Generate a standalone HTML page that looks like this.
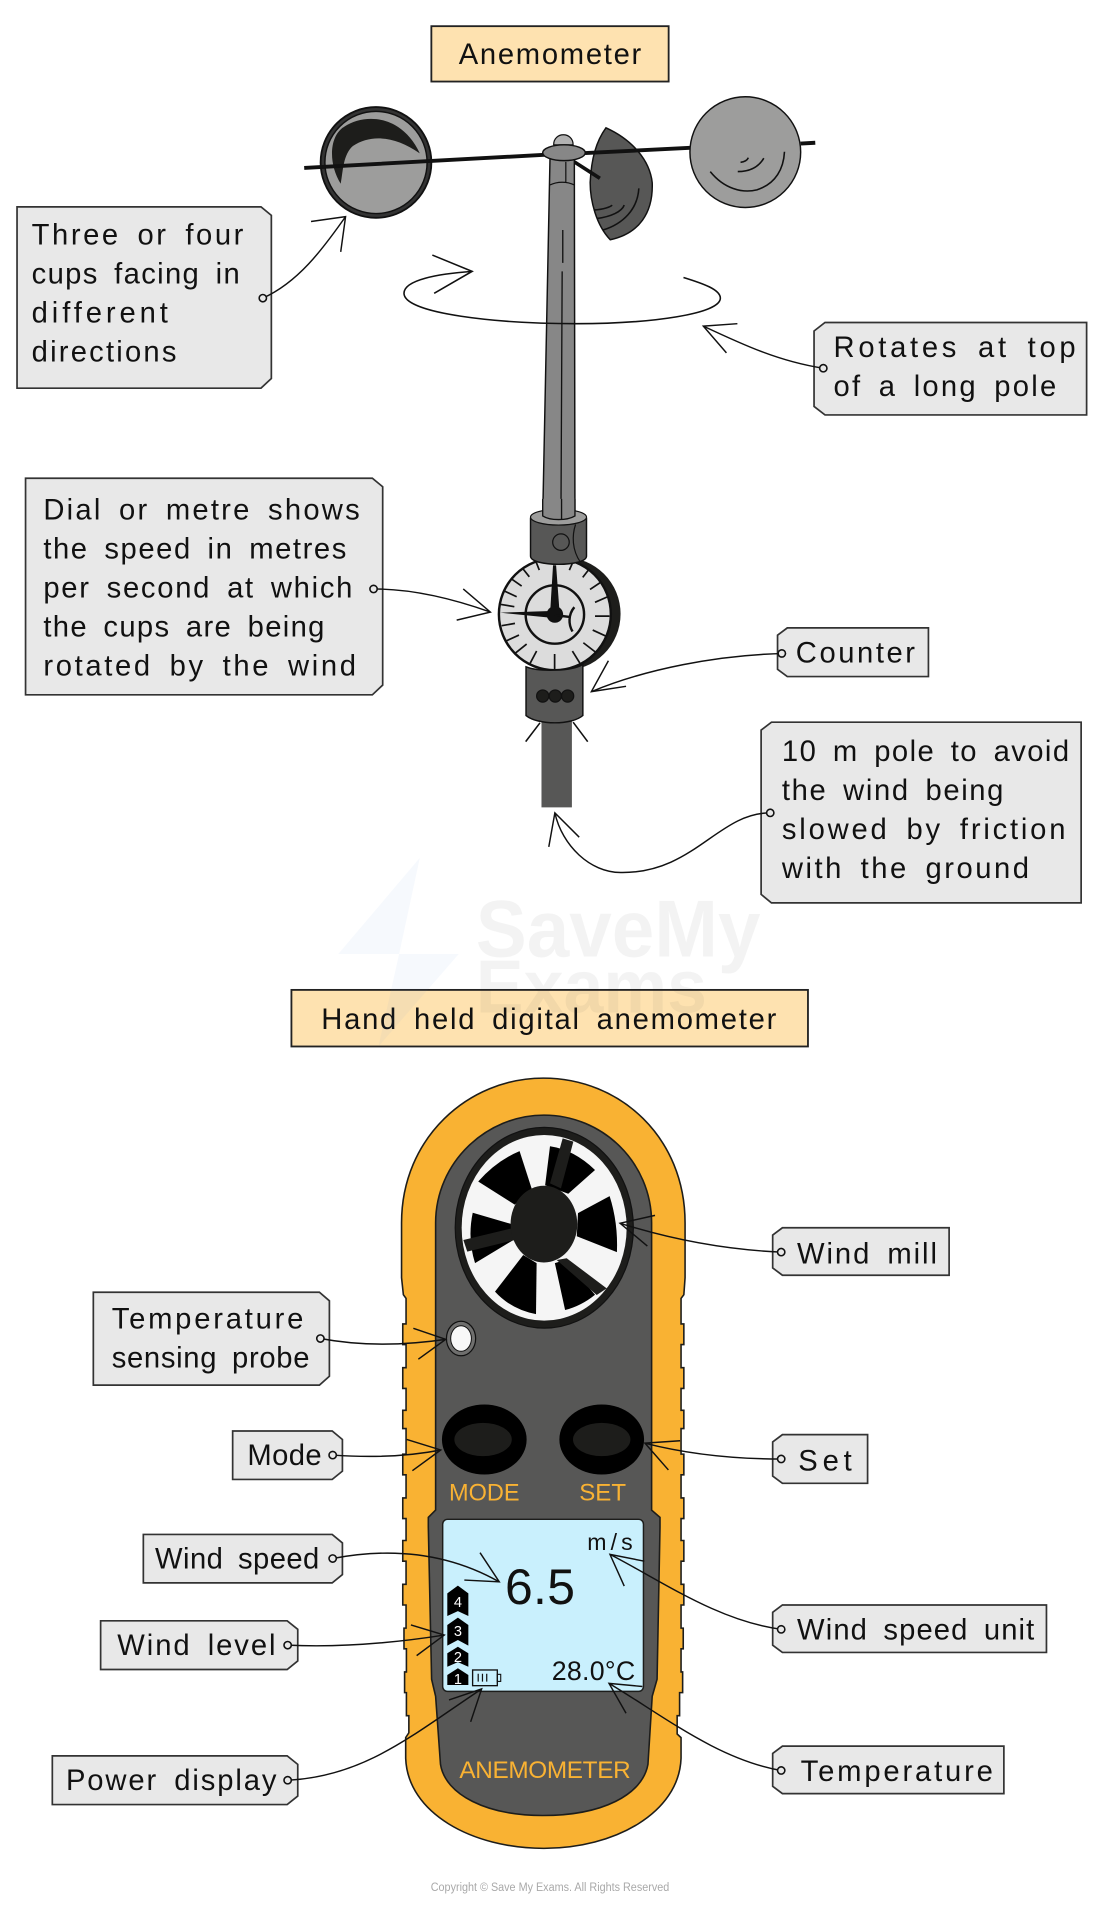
<!DOCTYPE html>
<html lang="en"><head><meta charset="utf-8"><title>Anemometer</title>
<style>
html,body{margin:0;padding:0;background:#fff;width:1100px;height:1908px;overflow:hidden}
svg{display:block}
text{font-family:"Liberation Sans",sans-serif}
.t{font-size:24px;fill:#111;word-spacing:5px}
.b{fill:#e8e8e8;stroke:#333;stroke-width:1.4}
.h{fill:#fee2b0;stroke:#222;stroke-width:1.5}
.l{fill:none;stroke:#111;stroke-width:1.2}
.d{fill:#e8e8e8;stroke:#111;stroke-width:1.3}
.c{fill:none;stroke:#111;stroke-width:1.3}
.o{fill:#f9b233;font-size:20px}
.n{fill:#fff;font-size:12px;text-anchor:middle}
</style></head><body>
<svg width="1100" height="1908" viewBox="0 0 904 1568" xmlns="http://www.w3.org/2000/svg">
<rect width="904" height="1568" fill="#fff"/>

<!-- Title 1 -->
<rect class="h" x="354.500" y="21.500" width="195" height="45.500"/>
<text class="t" x="377" y="52.500" textLength="150">Anemometer</text>

<!-- Left cup -->
<circle cx="309" cy="133.500" r="45.500" fill="#333" stroke="#111" stroke-width="1.500"/>
<circle cx="309" cy="133.500" r="42" fill="#9d9d9c" stroke="#111" stroke-width="1.200"/>
<path d="M280 151C270 135 270 112 283 104C300 93 330 94 345 126C325 112 305 110 290 120C282 127 282 140 280 151Z" fill="#1d1d1b"/>
<!-- Right cup -->
<circle cx="612.500" cy="125" r="45.500" fill="#9d9d9c" stroke="#111" stroke-width="1.200"/>
<path class="c" d="M583.700 141C595 155 610 159 622 156C638 151 644 138 644.700 124.700M606.300 141C615 141 623 138 627.700 130M608.600 133.400C612 133 614 132 615 129.600"/>
<!-- Mid cup -->
<path d="M498 105C520 115 534 132 536 150C537 175 525 192 501.500 197C490 185 485 165 485 150C486 130 490 116 498 105Z" fill="#575756" stroke="#111" stroke-width="1.200"/>
<path class="c" d="M495.600 189C512 184 524 172 525 154.800M491 179.500C502 178 511 174 513 168.500M488 172.600C496 172 502 170 503 168.500"/>
<!-- Stick -->
<path d="M250 138L451 127M481 125.800L567 121.500M658 118L670 117.300" stroke="#111" stroke-width="3.200" fill="none"/>
<path d="M472 133L493 146.500" stroke="#111" stroke-width="3"/>
<!-- Pole -->
<path d="M452 130L472 130L472.500 425H446Z" fill="#878787" stroke="#111" stroke-width="1.200"/>
<path d="M452 152C458 149 466 149 472 152" fill="none" stroke="#111" stroke-width="1"/>
<path d="M465 133V150" stroke="#111" stroke-width="1"/>
<path d="M462.500 189V216M462 223L461 424" stroke="#111" stroke-width="1.100" fill="none"/>
<path d="M455 119C455 108 471 108 471 119Z" fill="#b2b2b2" stroke="#111" stroke-width="1"/>
<ellipse cx="463.500" cy="125.500" rx="17.500" ry="6.500" fill="#878787" stroke="#111" stroke-width="1.200"/>

<!-- Rotation ellipse -->
<path class="c" d="M388 223C360 225 332 230 332 241C332 258 410 266 473.600 266C535 266 592 258 592 245C592 238 578 233 561.700 228" stroke-width="1.600"/>
<path class="c" d="M355.300 209.600L388 223L356.800 241" stroke-width="1.600"/>

<!-- Dial -->
<circle cx="463.500" cy="504.500" r="46.500" fill="#1d1d1b"/>
<circle cx="456" cy="504.800" r="46" fill="#dcdcdc" stroke="#111" stroke-width="2"/>
<path stroke="#111" stroke-width="1.400" fill="none" d="M440.500 461.600L443.200 468.500M429.500 467.100L435 474M420.500 475.900L428.700 481.600M414.500 485.700L424.600 490.400M411.700 496.700L422.700 498.600M412.300 514.200L423.200 512.300M415.800 526.800L426.500 521.900M423.200 537L432.800 529.300M435.600 545.200L441 535M455.800 550.700V537.500M476.700 545.200L470.400 535M489 535.600L479.400 528.200M497.800 522.700L487.100 517.800M500.800 506.300H489M499.400 490.400L489 495M493.100 478.900L484.900 484.400M484 467.900L478.900 474.500M470.600 462.400L467.900 468.500"/>
<circle cx="456" cy="505" r="24" fill="none" stroke="#111" stroke-width="2"/>
<path d="M454.500 464.500H457L460 505H452Z" fill="#111"/>
<path d="M411 503.500L456 502V508Z" fill="#111"/>
<circle cx="456" cy="505" r="6.800" fill="#111"/>
<path d="M472 499C467 505 467 513 470.500 519M456 505.500L468 507" stroke="#111" stroke-width="2" fill="none"/>
<!-- Collar -->
<path d="M436 426C436 420 482 420 482 426V457C482 466 436 466 436 457Z" fill="#575756" stroke="#111" stroke-width="1.200"/>
<ellipse cx="459" cy="425" rx="23" ry="6.500" fill="#9d9d9c" stroke="#111" stroke-width="1"/>
<path d="M446 410H472.500V424C466 428 452 428 446 424Z" fill="#878787"/>
<path d="M446 410V424C452 428 466 428 472.500 424V410M461.500 410V427" fill="none" stroke="#111" stroke-width="1.100"/>
<circle cx="461" cy="445.500" r="6.800" fill="none" stroke="#111" stroke-width="1"/>
<path d="M473 431C470 440 470 452 477 462" fill="none" stroke="#111" stroke-width="1"/>

<!-- Lower body -->
<rect x="445" y="590" width="25" height="73.500" fill="#575756"/>
<path d="M432.300 548C442 552 470 552 479 546V588C470 596 442 596 432.300 588Z" fill="#575756" stroke="#111" stroke-width="1.200"/>
<circle cx="446" cy="572" r="5" fill="#1d1d1b" stroke="#111"/><circle cx="456.300" cy="572" r="5" fill="#1d1d1b" stroke="#111"/><circle cx="466.500" cy="572" r="5" fill="#1d1d1b" stroke="#111"/>
<path class="c" d="M443.800 594L432 609.500M471 593.500L483 609.500"/>

<!-- Label 1 -->
<path class="b" d="M14 170H214.500L223 177V311L214.500 319H14Z"/>
<text class="t" x="26" y="201" textLength="174">Three or four</text>
<text class="t" x="26" y="233" textLength="171">cups facing in</text>
<text class="t" x="26" y="265" textLength="112">different</text>
<text class="t" x="26" y="297" textLength="119">directions</text>
<path class="l" d="M216 245C245 232 265 205 284 178M255.600 182L284 178L280 207"/>
<circle class="d" cx="216" cy="245" r="3"/>

<!-- Rotates -->
<path class="b" d="M678 265H893V341H678L669 334V272Z"/>
<text class="t" x="685" y="293.500" textLength="199">Rotates at top</text>
<text class="t" x="685" y="325.500" textLength="183">of a long pole</text>
<path class="l" d="M676.600 302.600C640 297 610 283 578 268M606 266L578 268L597 290"/>
<circle class="d" cx="676.600" cy="302.600" r="3"/>

<!-- Dial label -->
<path class="b" d="M21 393H306L314.500 400V563L306 571H21Z"/>
<text class="t" x="35.600" y="427" textLength="260">Dial or metre shows</text>
<text class="t" x="35.600" y="459" textLength="249">the speed in metres</text>
<text class="t" x="35.600" y="491" textLength="254">per second at which</text>
<text class="t" x="35.600" y="523" textLength="231">the cups are being</text>
<text class="t" x="35.600" y="555" textLength="257">rotated by the wind</text>
<path class="l" d="M307 484C340 484 375 493 403 503M380.700 484L403 503L375.300 509.600"/>
<circle class="d" cx="307" cy="484" r="3"/>

<!-- Counter -->
<path class="b" d="M647 516H763V556H647L639 550V522Z"/>
<text class="t" x="654" y="544.500" textLength="98">Counter</text>
<path class="l" d="M646 537C590 538 530 550 486 568.400M500 543L486 568.400L514.500 564"/>
<circle class="d" cx="642.500" cy="537" r="3"/>

<!-- 10 m -->
<path class="b" d="M634 593.500H888.500V742H634L625.500 735V600Z"/>
<text class="t" x="642.600" y="625.500" textLength="236">10 m pole to avoid</text>
<text class="t" x="642.600" y="657.500" textLength="182">the wind being</text>
<text class="t" x="642.600" y="689.500" textLength="233">slowed by friction</text>
<text class="t" x="642.600" y="721.500" textLength="203">with the ground</text>
<path class="l" d="M633 668C590 668 570 718 510 717C485 717 462 695 456 668M451 696L456 668L476 688"/>
<circle class="d" cx="633" cy="668" r="3"/>

<!-- Title 2 -->
<rect class="h" x="239.500" y="813.500" width="424.500" height="46.500"/>
<text class="t" x="264" y="845.500" textLength="374">Hand held digital anemometer</text>

<!-- Watermark -->
<g opacity=".05">
<polygon points="345,705 278,784 328,784" fill="#4a7fd6" opacity=".9"/>
<polygon points="328,784 377,784 311,860" fill="#4a7fd6" opacity=".9"/>
<text x="391" y="786" font-size="66" font-weight="700" fill="#333" textLength="234" lengthAdjust="spacingAndGlyphs">SaveMy</text>
<text x="391" y="832" font-size="62" font-weight="700" fill="#333" textLength="190" lengthAdjust="spacingAndGlyphs">Exams</text>
</g>

<!-- Digital: outer -->
<path fill="#f9b233" stroke="#1d1d1b" stroke-width="1.300" d="M330 1005C330 935 385 886 446.500 886C510 886 563 935 563 1005V1050L562 1064L559.700 1067V1088H562V1105H559.700V1124H562V1141H559.700V1159H562V1174H559.700V1195H562V1212H559.700V1231H562V1248H559.700V1266H562V1283H559.700V1302H562V1319H559.700V1338H561.500V1355H559.700V1374H561V1391H558.500V1410H556.500V1425L559.700 1428V1445C558 1490 505 1519 447 1519C388 1519 335 1490 333.400 1445V1428L336 1424V1410H334V1391H332.500V1374H334V1355H332V1338H333.700V1319H331V1302H333.700V1283H331V1266H333.700V1248H331V1231H333.700V1212H331V1195H333.700V1174H331V1159H333.700V1141H331V1124H333.700V1105H331V1088H333.700V1067L331.500 1064L330 1050Z"/>
<!-- Inner body -->
<path fill="#575756" stroke="#1d1d1b" stroke-width="1.300" d="M358 1005C358 955 400 916.400 447 916.400C495 916.400 535.500 955 535.500 1005V1241L542.400 1247V1255L540 1380L536 1394L532.500 1450C528 1475 495 1492 446 1492C400 1492 366 1475 362 1450L358 1394L354.700 1380L352 1255V1247L358 1241Z"/>
<!-- Fan -->
<ellipse cx="447.300" cy="1009" rx="73.200" ry="82.500" fill="#1d1d1b" stroke="#111" stroke-width="1"/>
<ellipse cx="447.200" cy="1009" rx="67.800" ry="76.300" fill="#f5f5f5"/>
<g fill="#000">
<path d="M393 971Q408 954 427 946L437 977L423 990Z"/>
<path d="M452 942Q472 945 489 961.500L467 981L448 974Z"/>
<path d="M501 983Q508 1005 507 1029L474 1016L475 997Z"/>
<path d="M456 1038L464.400 1035.500L489 1064Q478 1073 464.400 1076.600Z"/>
<path d="M406.800 1061.500L430 1031.400L441 1038L440.500 1080Q420 1076 406.800 1061.500Z"/>
<path d="M388.500 996.600L420.500 1006L422 1019L390.400 1038Q384 1018 388.500 996.600Z"/>
</g>
<g fill="#1d1d1b">
<polygon points="462.400,935.500 471.200,938.200 461,976.600 452,972.500"/>
<polygon points="380.800,1019 384,1028.600 423.300,1019 420.500,1009.500"/>
<polygon points="465.700,1034 498.600,1058.800 490.400,1064.200 457.500,1035.500"/>
<ellipse cx="447" cy="1006" rx="27.400" ry="31.500"/>
</g>
<!-- Probe -->
<ellipse cx="378.900" cy="1100" rx="12" ry="14.200" fill="#6f6f6e" stroke="#111" stroke-width="1"/>
<ellipse cx="378.900" cy="1100" rx="8.500" ry="10.500" fill="#f8f8f8" stroke="#111" stroke-width=".8"/>
<!-- Buttons -->
<ellipse cx="398" cy="1183" rx="34.800" ry="28.800" fill="#000"/>
<ellipse cx="397" cy="1183" rx="23.600" ry="13.700" fill="#1d1d1b"/>
<ellipse cx="494.500" cy="1183" rx="34.800" ry="28.800" fill="#000"/>
<ellipse cx="494.500" cy="1183" rx="23.600" ry="13.700" fill="#1d1d1b"/>
<text class="o" x="369" y="1233" textLength="58" lengthAdjust="spacingAndGlyphs">MODE</text>
<text class="o" x="476" y="1233" textLength="38.500" lengthAdjust="spacingAndGlyphs">SET</text>
<!-- Screen -->
<rect x="363.800" y="1248.600" width="165" height="141.400" rx="4" fill="#c9f0fd" stroke="#1d1d1b" stroke-width="1.200"/>
<text x="415" y="1318.300" font-size="41" fill="#111" textLength="57.500">6.5</text>
<text x="482.600" y="1273.800" font-size="19" fill="#111" textLength="37.400">m/s</text>
<text x="453.400" y="1380.700" font-size="22" fill="#111" textLength="68.600">28.0°C</text>
<text class="o" x="377.500" y="1461.300" textLength="140.800">ANEMOMETER</text>
<!-- levels -->
<g fill="#000">
<polygon points="376.300,1303.100 384.900,1309.400 384.900,1328 376.300,1324 367.600,1328 367.600,1309.400"/>
<polygon points="376.300,1329.400 384.900,1335.400 384.900,1352.400 376.300,1347.800 367.600,1352.400 367.600,1335.400"/>
<polygon points="376.300,1353.300 384.900,1358.700 384.900,1369.700 376.300,1366 367.600,1369.700 367.600,1358.700"/>
<polygon points="376.300,1371 384.900,1376.500 384.900,1384.800 367.600,1384.800 367.600,1376.500"/>
</g>
<text class="n" x="376.300" y="1320.500">4</text>
<text class="n" x="376.300" y="1344.500">3</text>
<text class="n" x="376.300" y="1366">2</text>
<text class="n" x="376.300" y="1384">1</text>
<rect x="388.400" y="1372.400" width="20.300" height="12.900" fill="none" stroke="#111" stroke-width="1.100"/>
<rect x="408.700" y="1376" width="2.800" height="5.800" fill="none" stroke="#111" stroke-width=".9"/>
<path d="M393 1375.500V1382M396.500 1375.500V1382M400 1375.500V1382" stroke="#111" stroke-width="1"/>

<!-- Right labels -->
<path class="b" d="M643 1009H780V1048H643L635 1042V1015Z"/>
<text class="t" x="655" y="1038.500" textLength="115">Wind mill</text>
<path class="l" d="M642 1029C595 1027 550 1018 509.600 1005.300M538.300 998.800L509.600 1005.300L532 1024"/>
<circle class="d" cx="642" cy="1029" r="3"/>

<path class="b" d="M643 1179H713V1219H643L635 1213V1185Z"/>
<text class="t" x="656" y="1208.500" textLength="44">Set</text>
<path class="l" d="M642 1199C602 1199 565 1195 530 1186M558.900 1184L530 1186L549.300 1208"/>
<circle class="d" cx="642" cy="1199" r="3"/>

<path class="b" d="M643 1319H860V1358H643L635 1352V1325Z"/>
<text class="t" x="655" y="1347.500" textLength="195">Wind speed unit</text>
<path class="l" d="M642 1339C590 1332 545 1300 501.300 1277.400M529.500 1283L501.300 1277.400L513 1303.400"/>
<circle class="d" cx="642" cy="1339" r="3"/>

<path class="b" d="M643 1435H825V1474H643L635 1468V1441Z"/>
<text class="t" x="658" y="1463.500" textLength="158">Temperature</text>
<path class="l" d="M642 1455C590 1446 545 1410 500.500 1383.400M527.900 1386L500.500 1383.400L514.500 1408"/>
<circle class="d" cx="642" cy="1455" r="3"/>

<!-- Left labels -->
<path class="b" d="M76.700 1062H262.500L270.700 1069V1131L262.500 1138.300H76.700Z"/>
<text class="t" x="91.800" y="1091.700" textLength="157.500">Temperature</text>
<text class="t" x="91.800" y="1123.800" textLength="162.500">sensing probe</text>
<path class="l" d="M263.300 1100C295 1106 330 1106 366.300 1100.700M339.700 1091.600L366.300 1100.700L343.800 1117"/>
<circle class="d" cx="263.300" cy="1100" r="3"/>

<path class="b" d="M191.200 1176H273L281.400 1183V1209L273 1215.800H191.200Z"/>
<text class="t" x="203.300" y="1204" textLength="61">Mode</text>
<path class="l" d="M273.400 1195.800C305 1198 335 1197 362.200 1191.600M334.200 1182.900L362.200 1191.600L338.900 1208.600"/>
<circle class="d" cx="273.400" cy="1195.800" r="3"/>

<path class="b" d="M117.800 1261H273L281.400 1268V1294L273 1300.800H117.800Z"/>
<text class="t" x="127.400" y="1289" textLength="135">Wind speed</text>
<path class="l" d="M273.400 1280.800C330 1270 375 1280 410.300 1300M394.500 1276L410.300 1300L381.600 1298.500"/>
<circle class="d" cx="273.400" cy="1280.800" r="3"/>

<path class="b" d="M82.700 1332H236L244.700 1339V1365L236 1372H82.700Z"/>
<text class="t" x="96.400" y="1360" textLength="130">Wind level</text>
<path class="l" d="M236.400 1352C280 1354 325 1350 365.100 1343.700M337.700 1335.400L365.100 1343.700L342.400 1360.600"/>
<circle class="d" cx="236.400" cy="1352" r="3"/>

<path class="b" d="M43 1443H236L244.700 1450V1476L236 1483H43Z"/>
<text class="t" x="54.200" y="1471" textLength="173">Power display</text>
<path class="l" d="M236.400 1463C300 1460 340 1425 395.800 1388M369 1397L395.800 1388L386.800 1415"/>
<circle class="d" cx="236.400" cy="1463" r="3"/>

<text x="354" y="1554" font-size="10" fill="#a9a9a9" textLength="196" lengthAdjust="spacingAndGlyphs">Copyright © Save My Exams. All Rights Reserved</text>
</svg>
</body></html>
